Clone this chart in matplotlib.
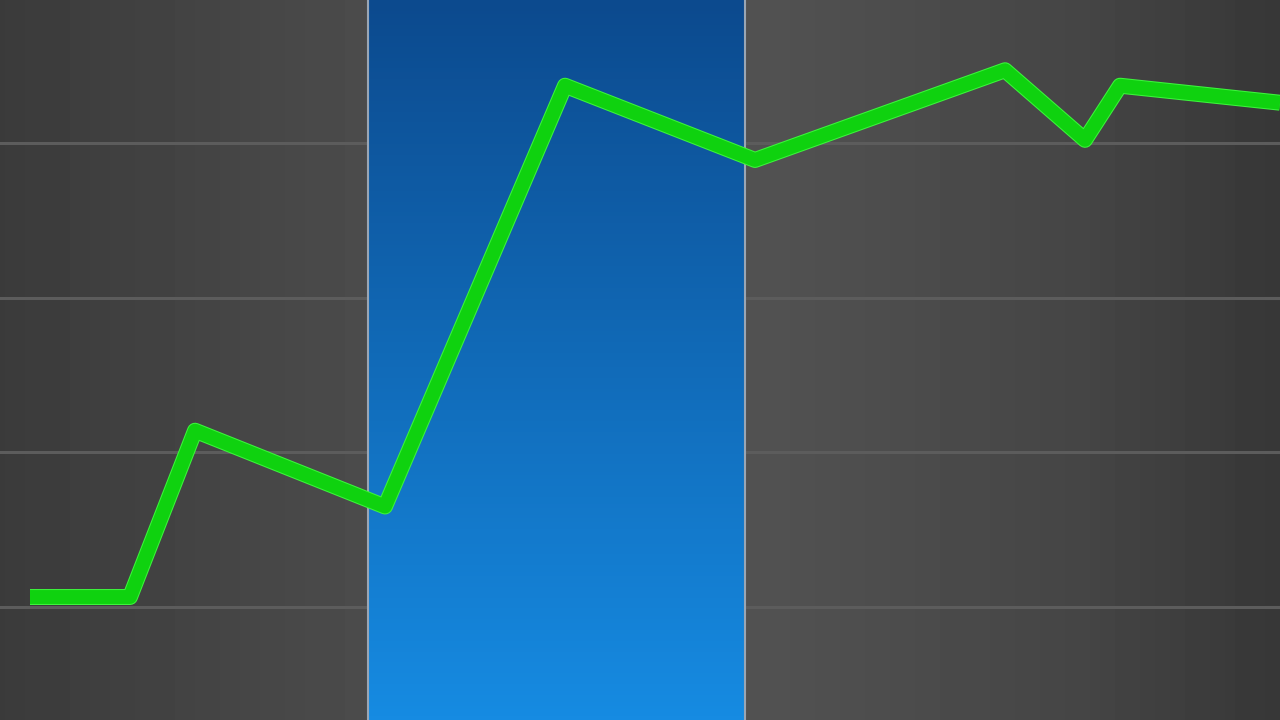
import numpy as np
import matplotlib.pyplot as plt

# data
x = [3, 13, 19.5, 38.5, 56.5, 75.5, 100.5, 108.5, 112, 128]
y = [0.065, 0.065, 1.14, 0.65, 3.37, 2.89, 3.47, 3.02, 3.37, 3.26]
grid_levels = [0, 1, 2, 3]
band = [36.8, 74.5]

xmin, xmax = 0, 128
ymin, ymax = -0.73, 3.924

fig = plt.figure(figsize=(12.8, 7.2), dpi=100)
ax = fig.add_axes([0, 0, 1, 1])
ax.set_xlim(xmin, xmax)
ax.set_ylim(ymin, ymax)
ax.axis('off')

# dark gray background, darker toward the left and right edges
gx = np.linspace(0, 1, 256)
shade = np.interp(gx, [0, 0.3, 0.6, 0.85, 1], [0.23, 0.30, 0.32, 0.27, 0.215])
bg = np.tile(shade, (8, 1))
ax.imshow(bg, cmap='gray', vmin=0, vmax=1, extent=[xmin, xmax, ymin, ymax],
          origin='upper', aspect='auto', zorder=0)

# grid lines
for g in grid_levels:
    ax.axhline(g, color='#5c5c5c', linewidth=2.2, zorder=1)

# blue gradient band
t = np.linspace(0, 1, 200).reshape(-1, 1)
c_top = np.array([0x0c, 0x4a, 0x8e]) / 255
c_bot = np.array([0x16, 0x8b, 0xe2]) / 255
grad = c_top + (c_bot - c_top) * t
grad = grad.reshape(200, 1, 3)
ax.imshow(grad, extent=[band[0], band[1], ymin, ymax], origin='upper',
          aspect='auto', zorder=2)
for b in band:
    ax.axvline(b, color='#9aa6b4', linewidth=1.5, zorder=3)

# green line
ax.plot(x, y, color='#3cf53c', linewidth=11.5, solid_joinstyle='round',
        solid_capstyle='butt', zorder=4)
ax.plot(x, y, color='#0fd20f', linewidth=10, solid_joinstyle='round',
        solid_capstyle='butt', zorder=5)

fig.savefig('out.png', dpi=100)
